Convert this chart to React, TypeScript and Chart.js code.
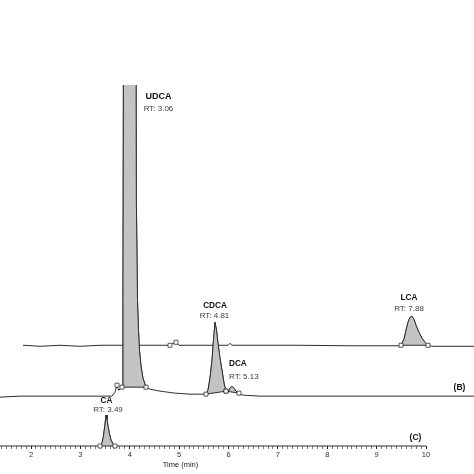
import React, { useEffect, useRef } from 'react';
import { Chart, registerables } from 'chart.js';

Chart.register(...registerables);

// ---------- data (time in min, detector response in arbitrary units) ----------
const traceATime = [1.838, 2.182, 2.587, 2.992, 3.397, 3.823, 4.147, 4.714, 4.815, 4.876, 4.937, 4.997, 5.119, 5.99, 6.03, 6.071, 6.638, 7.448, 8.461, 9.433, 9.494, 9.554, 9.595, 9.635, 9.676, 9.716, 9.757, 9.797, 9.858, 9.919, 9.98, 10.041, 10.122, 10.486, 10.972];
const traceAIntensity = [101, 100, 101, 100, 101, 101, 101, 101, 101, 103, 104, 101, 101, 101, 103, 101, 101, 101, 100.5, 100.5, 101, 107, 116, 124, 129, 130, 127, 121, 114, 108, 104, 101, 100, 100, 100];

const traceBTime = [1.372, 1.777, 2.182, 2.587, 2.992, 3.397, 3.641, 3.701, 3.742, 3.772, 3.803, 3.843, 3.863, 3.884, 3.995, 4.116, 4.133, 4.157, 4.177, 4.197, 4.228, 4.268, 4.329, 4.41, 4.613, 4.916, 5.22, 5.544, 5.585, 5.625, 5.666, 5.696, 5.727, 5.757, 5.787, 5.828, 5.868, 5.909, 5.949, 5.99, 6.03, 6.071, 6.111, 6.152, 6.213, 6.294, 6.638, 7.448, 8.461, 9.473, 10.284, 10.972];
const traceBIntensity = [49, 50, 50, 50, 50, 50, 50, 54, 61, 56, 57, 59, 150, 700, 2000, 700, 250, 146, 116, 96, 80, 68, 59, 57, 55, 53, 52, 52, 56, 68, 86, 106, 124, 116, 103, 88, 76, 63, 55, 54, 58, 60, 58, 55, 53, 51, 50, 50, 50, 50, 50, 50];

const traceCTime = [1.372, 2.385, 3.397, 3.438, 3.468, 3.499, 3.519, 3.539, 3.559, 3.59, 3.62, 3.661, 3.701, 5.423, 7.448, 10.0];
const traceCIntensity = [0, 0, 0, 3, 10, 22, 31, 27, 20, 12, 6, 2, 0, 0, 0, 0];

// integrated peaks: [trace, start index, end index]
const peakTrace = ['B', 'B', 'B', 'A', 'C'];
const peakStart = [11, 27, 38, 20, 2];
const peakEnd = [22, 38, 44, 31, 12];
const peakNames = ['UDCA', 'CDCA', 'DCA', 'LCA', 'CA'];
const peakRT = ['RT: 3.06', 'RT: 4.81', 'RT: 5.13', 'RT: 7.88', 'RT: 3.49'];

// extra integration markers on the traces: [trace, index]
const markerTrace = ['A', 'A', 'B'];
const markerIndex = [8, 10, 8];

const traceLabels = ['(B)', '(C)'];
const majorTickLabels = ['2', '3', '4', '5', '6', '7', '8', '9', '10'];
const axisTitle = 'Time (min)';

// ---------- annotation placement (data units) ----------
const nameAnchorTime = [4.582, 5.727, 6.01, 9.656, 3.529];
const nameAnchorValue = [350, 141, 82, 149, 45];
const rtAnchorTime = [4.582, 5.716, 6.01, 9.656, 3.559];
const rtAnchorValue = [338, 131, 69, 138, 36];
const labelAlign = ['center', 'center', 'left', 'center', 'center'];
const nameFontSize = [9, 8.2, 8.2, 8.2, 8.2];
const traceLabelTime = [10.678, 9.787];
const traceLabelValue = [59, 8];

const FONT = "'Liberation Sans', Arial, Helvetica, sans-serif";
const LINE = '#2e2e2e';
const FILL = '#c3c3c3';

const traces: Record<string, { t: number[]; v: number[] }> = {
  A: { t: traceATime, v: traceAIntensity },
  B: { t: traceBTime, v: traceBIntensity },
  C: { t: traceCTime, v: traceCIntensity },
};

const toPoints = (t: number[], v: number[]) => t.map((x, i) => ({ x, y: v[i] }));

const peakShape = (key: string, s: number, e: number) => {
  const { t, v } = traces[key];
  const p: { x: number; y: number }[] = [];
  for (let i = s; i <= e; i++) p.push({ x: t[i], y: v[i] });
  p.push({ x: t[s], y: v[s] });
  return p;
};

const tickValues: number[] = [];
for (let k = 14; k <= 100; k++) tickValues.push(k / 10);
const isMajor = (v: number) => Math.abs(v * 10 - Math.round(v) * 10) < 1e-6;

const textPlugin = {
  id: 'chromText',
  afterDatasetsDraw(chart: any) {
    const { ctx } = chart;
    const xs = chart.scales.x;
    const ys = chart.scales.y;
    ctx.save();
    ctx.textBaseline = 'middle';
    peakNames.forEach((name, i) => {
      ctx.textAlign = labelAlign[i];
      ctx.fillStyle = '#111';
      ctx.font = `bold ${nameFontSize[i]}px ${FONT}`;
      ctx.fillText(name, xs.getPixelForValue(nameAnchorTime[i]), ys.getPixelForValue(nameAnchorValue[i]));
      ctx.fillStyle = '#3a3a3a';
      ctx.font = `8px ${FONT}`;
      ctx.fillText(peakRT[i], xs.getPixelForValue(rtAnchorTime[i]), ys.getPixelForValue(rtAnchorValue[i]));
    });
    ctx.textAlign = 'center';
    ctx.fillStyle = '#111';
    ctx.font = `bold 8.5px ${FONT}`;
    traceLabels.forEach((lab, i) => {
      ctx.fillText(lab, xs.getPixelForValue(traceLabelTime[i]), ys.getPixelForValue(traceLabelValue[i]));
    });
    ctx.fillStyle = '#222';
    ctx.font = `7.5px ${FONT}`;
    ctx.fillText(axisTitle, xs.getPixelForValue(5.028), chart.chartArea.bottom + 19);
    ctx.restore();
  },
};

export default function App() {
  const ref = useRef<HTMLCanvasElement | null>(null);

  useEffect(() => {
    if (!ref.current) return;
    const clip = { left: 2, right: 2, top: 0, bottom: 4 };
    const traceSets = ['A', 'B', 'C'].map((k) => ({
      data: toPoints(traces[k].t, traces[k].v),
      borderColor: LINE,
      borderWidth: 1,
      pointRadius: 0,
      fill: false,
      tension: 0,
      clip,
      order: 3,
    }));
    const peakSets = peakTrace.map((k, i) => ({
      data: peakShape(k, peakStart[i], peakEnd[i]),
      borderColor: LINE,
      borderWidth: 1,
      backgroundColor: FILL,
      pointRadius: 0,
      fill: 'shape',
      tension: 0,
      clip,
      order: 2,
    }));
    const markerPts: { x: number; y: number }[] = [];
    peakTrace.forEach((k, i) => {
      const { t, v } = traces[k];
      markerPts.push({ x: t[peakStart[i]], y: v[peakStart[i]] });
      markerPts.push({ x: t[peakEnd[i]], y: v[peakEnd[i]] });
    });
    markerTrace.forEach((k, i) => {
      const { t, v } = traces[k];
      markerPts.push({ x: t[markerIndex[i]], y: v[markerIndex[i]] });
    });
    const markerSet = {
      data: markerPts,
      showLine: false,
      pointStyle: 'rect',
      pointRadius: 2.8,
      pointBackgroundColor: '#ffffff',
      pointBorderColor: '#333',
      pointBorderWidth: 0.8,
      clip,
      order: 1,
    };

    const chart = new Chart(ref.current, {
      type: 'line',
      data: { datasets: [...traceSets, ...peakSets, markerSet] as any },
      options: {
        animation: false,
        responsive: false,
        events: [],
        layout: { autoPadding: false, padding: { top: 85, bottom: 14, left: 0, right: 0 } },
        plugins: { legend: { display: false }, tooltip: { enabled: false } },
        scales: {
          x: {
            type: 'linear',
            min: 1.372,
            max: 10.972,
            border: { display: false },
            grid: {
              display: true,
              drawOnChartArea: false,
              drawTicks: true,
              tickLength: 3,
              tickColor: (c: any) => (c.tick && isMajor(c.tick.value) ? '#222' : '#555'),
              tickWidth: (c: any) => (c.tick && isMajor(c.tick.value) ? 1 : 0.8),
            },
            ticks: {
              autoSkip: false,
              maxRotation: 0,
              minRotation: 0,
              padding: 1,
              color: '#333',
              font: { family: FONT, size: 7.5 },
              callback: (v: any) => (isMajor(Number(v)) ? majorTickLabels[Math.round(Number(v)) - 2] : ''),
            },
            afterBuildTicks: (axis: any) => {
              axis.ticks = tickValues.map((value) => ({ value }));
            },
          },
          y: { display: false, min: 0, max: 362 },
        },
      },
      plugins: [textPlugin],
    });
    return () => chart.destroy();
  }, []);

  return (
    <div style={{ position: 'absolute', left: 0, top: 0, width: 474, height: 474, background: '#fff' }}>
      <canvas ref={ref} width={474} height={474} style={{ display: 'block', width: 474, height: 474 }} />
    </div>
  );
}
